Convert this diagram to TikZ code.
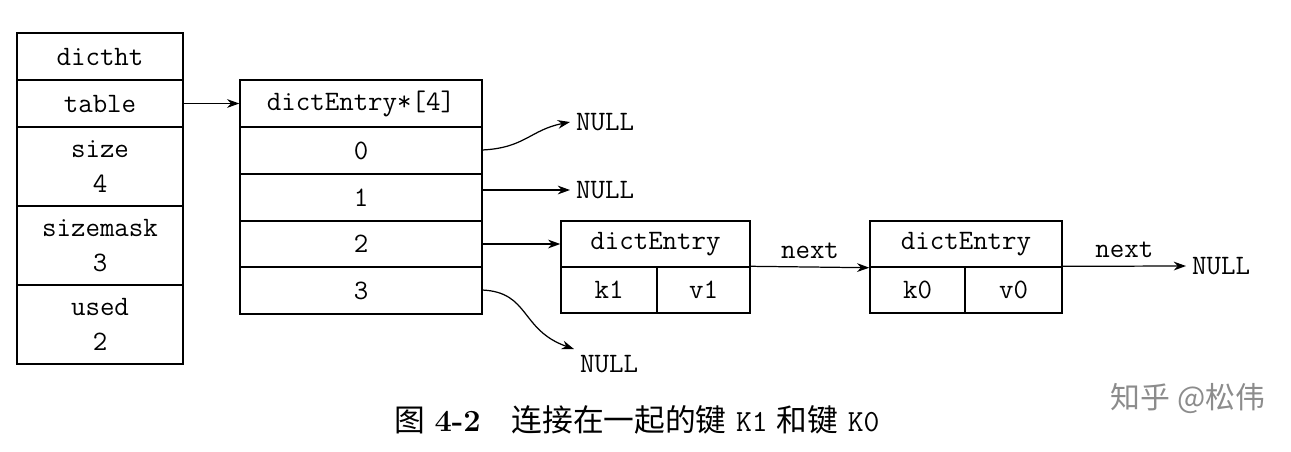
\documentclass[tikz,border=0pt]{standalone}
\usepackage{fontspec}
\newfontfamily\cjk{Noto Sans CJK SC}
\usetikzlibrary{positioning,arrows.meta}
\tikzset{
  cell/.style={draw=black, line width=0.8pt, inner sep=0pt, font=\ttfamily\fontsize{16}{18}\selectfont, align=center},
  l1/.style={line width=0.7pt, -{Stealth[length=7pt,width=5pt]}},
  lbl/.style={font=\ttfamily\fontsize{16}{18}\selectfont}
}
\begin{document}
\begin{tikzpicture}[x=0.02cm,y=-0.02cm]
    \useasboundingbox (0,0) rectangle (1291,451);
    % dictht
    \node[cell, minimum width=166*0.02cm, minimum height=47*0.02cm] (ht) at (100,56.5) {dictht};
    \node[cell, minimum width=166*0.02cm, minimum height=47*0.02cm] (tab) at (100,103.5) {table};
    \node[cell, minimum width=166*0.02cm, minimum height=79*0.02cm] (sz) at (100,166.5) {size\\[2pt]4};
    \node[cell, minimum width=166*0.02cm, minimum height=79*0.02cm] (sm) at (100,245.5) {sizemask\\[2pt]3};
    \node[cell, minimum width=166*0.02cm, minimum height=79*0.02cm] (us) at (100,324.5) {used\\[2pt]2};
    % table array
    \node[cell, minimum width=242*0.02cm, minimum height=47*0.02cm] (arr) at (361,103.5) {dictEntry*[4]};
    \node[cell, minimum width=242*0.02cm, minimum height=47*0.02cm] (e0) at (361,150.5) {0};
    \node[cell, minimum width=242*0.02cm, minimum height=47*0.02cm] (e1) at (361,197.5) {1};
    \node[cell, minimum width=242*0.02cm, minimum height=47*0.02cm] (e2) at (361,244) {2};
    \node[cell, minimum width=242*0.02cm, minimum height=47*0.02cm] (e3) at (361,290.5) {3};
    % entries
    \node[cell, minimum width=189*0.02cm, minimum height=46*0.02cm] (d1) at (655.5,244) {dictEntry};
    \node[cell, minimum width=96*0.02cm, minimum height=46*0.02cm] (k1) at (609,290) {k1};
    \node[cell, minimum width=93*0.02cm, minimum height=46*0.02cm] (v1) at (703.5,290) {v1};
    \node[cell, minimum width=192*0.02cm, minimum height=46*0.02cm] (d2) at (966,244) {dictEntry};
    \node[cell, minimum width=95*0.02cm, minimum height=46*0.02cm] (k0) at (917.5,290) {k0};
    \node[cell, minimum width=97*0.02cm, minimum height=46*0.02cm] (v0) at (1013.5,290) {v0};
    % NULLs
    \node[lbl, anchor=west] (n0) at (570,122) {NULL};
    \node[lbl, anchor=west] (n1) at (570,190) {NULL};
    \node[lbl, anchor=west] (n3) at (574,364) {NULL};
    \node[lbl, anchor=west] (n4) at (1186,266) {NULL};
    \coordinate (c0) at (482,150);
    \coordinate (c1) at (482,190);
    \coordinate (c2) at (482,244);
    \coordinate (c3) at (482,290);
    \draw[l1] (tab.east) -- (arr.west);
    \draw[l1] (c0) .. controls (525,148) and (530,130) .. (n0.west);
    \draw[l1] (c1) -- (n1.west);
    \draw[l1] (c2) -- (d1.west);
    \draw[l1] (c3) .. controls (530,292) and (520,330) .. (n3.north west);
    \draw[l1] (v1.north east) -- node[lbl, above=1pt] {next} (d2.south west);
    \draw[l1] (v0.north east) -- node[lbl, above=1pt] {next} (n4.west);
    % caption
    \node[font=\fontsize{17.5}{20}\selectfont] (cap) at (637,420) {{\cjk 图} \textbf{4-2}\quad {\cjk 连接在一起的键} {\ttfamily K1} {\cjk 和键} {\ttfamily K0}};
    \node[font=\cjk\fontsize{17}{20}\selectfont, text=black!45] (wm) at (1188,399) {知乎 @松伟};
\end{tikzpicture}
\end{document}
